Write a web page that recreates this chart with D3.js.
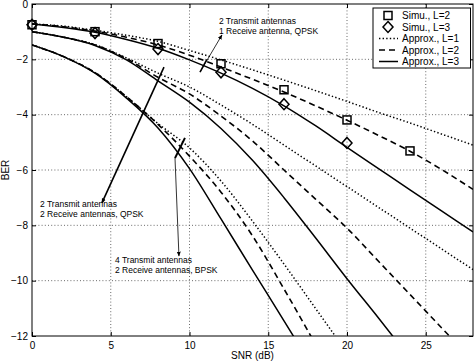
<!DOCTYPE html>
<html><head><meta charset="utf-8">
<script src="https://cdn.jsdelivr.net/npm/d3@7"></script>
<style>body{margin:0;background:#fff}svg{display:block}text{font-family:"Liberation Sans",Arial,sans-serif}</style>
</head><body><svg id="c" width="474" height="362"></svg>
<script>
// ---- data ----
const snr = [0,2,4,6,8,10,12,14,16,18,20,22,24,26,28];
// 2 Tx, 1 Rx, QPSK
const g1L1 = [-0.72,-0.8,-0.95,-1.13,-1.35,-1.68,-2.02,-2.38,-2.75,-3.13,-3.52,-3.92,-4.3,-4.7,-5.1];
const g1L2 = [-0.72,-0.82,-0.98,-1.2,-1.48,-1.85,-2.28,-2.72,-3.18,-3.68,-4.2,-4.75,-5.32,-5.98,-6.7];
const g1L3 = [-0.72,-0.85,-1.02,-1.28,-1.6,-2.02,-2.5,-3.05,-3.68,-4.4,-5.18,-5.95,-6.72,-7.48,-8.24];
// 2 Tx, 2 Rx, QPSK
const g2L1 = [-1.0,-1.2,-1.47,-1.95,-2.5,-3.0,-3.65,-4.35,-5.1,-5.85,-6.6,-7.35,-8.1,-8.85,-9.6];
const g2L2 = [-1.0,-1.2,-1.48,-1.98,-2.65,-3.25,-4.05,-4.95,-6.0,-7.05,-8.1,-9.3,-10.5,-11.7,-12.9];
const g2L3 = [-1.0,-1.2,-1.5,-2.02,-2.78,-3.55,-4.5,-5.65,-7.0,-8.45,-9.93,-11.35,-12.8,null,null];
// 4 Tx, 2 Rx, BPSK
const g3L1 = [-1.48,-1.9,-2.48,-3.35,-4.32,-5.2,-6.4,-7.85,-9.4,-11.0,-12.6,null,null,null,null];
const g3L2 = [-1.48,-1.9,-2.48,-3.35,-4.35,-5.5,-6.8,-8.38,-10.3,-12.3,null,null,null,null,null];
const g3L3 = [-1.48,-1.9,-2.5,-3.4,-4.48,-5.95,-7.77,-9.62,-11.45,-13.3,null,null,null,null,null];
// simulation points (2 Tx, 1 Rx)
const simSnrL2 = [0,4,8,12,16,20,24];
const simL2 = [-0.75,-1.0,-1.43,-2.16,-3.1,-4.19,-5.31];
const simSnrL3 = [0,4,8,12,16,20];
const simL3 = [-0.75,-1.05,-1.63,-2.47,-3.62,-5.02];
const xTicks = [0,5,10,15,20,25];
const yTicks = [0,-2,-4,-6,-8,-10,-12];
const legendLabels = ["Simu., L=2","Simu., L=3","Approx., L=1","Approx., L=2","Approx., L=3"];

// ---- layout ----
const svg = d3.select("#c");
const L=32, T=4, R=473, B=336;
const x = d3.scaleLinear().domain([0,28]).range([L,R]);
const y = d3.scaleLinear().domain([-12,0]).range([B,T]);
const styles = {L1:{dash:"1.4,2.2",w:1.5}, L2:{dash:"6,4",w:1.6}, L3:{dash:null,w:1.5}};
const curves = [
  [g1L1,"L1"],[g1L2,"L2"],[g1L3,"L3"],
  [g2L1,"L1"],[g2L2,"L2"],[g2L3,"L3"],
  [g3L1,"L1"],[g3L2,"L2"],[g3L3,"L3"]];

svg.append("defs").append("clipPath").attr("id","clip")
  .append("rect").attr("x",L).attr("y",T).attr("width",R-L).attr("height",B-T);
const mk = svg.select("defs").append("marker").attr("id","ah").attr("viewBox","0 0 10 10")
  .attr("refX",9).attr("refY",5).attr("markerWidth",5).attr("markerHeight",5)
  .attr("markerUnits","userSpaceOnUse").attr("orient","auto");
mk.append("path").attr("d","M0,1L10,5L0,9Z").attr("fill","#000");

// grid
const grid = svg.append("g").attr("stroke","#444").attr("stroke-width",0.8).attr("stroke-dasharray","1,2.2");
xTicks.filter(v=>v>0).forEach(v=>grid.append("line").attr("x1",x(v)).attr("x2",x(v)).attr("y1",T).attr("y2",B));
yTicks.filter(v=>v<0 && v>-12).forEach(v=>grid.append("line").attr("x1",L).attr("x2",R).attr("y1",y(v)).attr("y2",y(v)));

// axes
const ax = svg.append("g").attr("transform",`translate(0,${B})`)
  .call(d3.axisBottom(x).tickValues(xTicks).tickSize(-4).tickPadding(6).tickFormat(d3.format("d")));
const axT = svg.append("g").attr("transform",`translate(0,${T})`)
  .call(d3.axisTop(x).tickValues(xTicks).tickSize(-4).tickFormat(""));
const ay = svg.append("g").attr("transform",`translate(${L},0)`)
  .call(d3.axisLeft(y).tickValues(yTicks).tickSize(-4).tickPadding(4).tickFormat(d=>d<0?"\u2212"+(-d):d));
const ayR = svg.append("g").attr("transform",`translate(${R},0)`)
  .call(d3.axisRight(y).tickValues(yTicks).tickSize(-4).tickFormat(""));
[ax,axT,ay,ayR].forEach(g=>{g.select(".domain").remove();g.selectAll("line").attr("stroke","#000");
  g.selectAll("text").attr("font-size",10).attr("fill","#000").attr("font-family","Liberation Sans, Arial, sans-serif");});
svg.append("rect").attr("x",L).attr("y",T).attr("width",R-L).attr("height",B-T)
  .attr("fill","none").attr("stroke","#000").attr("stroke-width",1);

// curves
const line = d3.line().defined(d=>d[1]!=null).x(d=>x(d[0])).y(d=>y(d[1])).curve(d3.curveMonotoneX);
const cg = svg.append("g").attr("clip-path","url(#clip)");
curves.forEach(([vals,s])=>{
  cg.append("path").attr("d",line(snr.map((v,i)=>[v,vals[i]])))
    .attr("fill","none").attr("stroke","#000").attr("stroke-width",styles[s].w)
    .attr("stroke-dasharray",styles[s].dash);
});

// markers
const sq = (g,cx,cy)=>g.append("rect").attr("x",cx-4).attr("y",cy-4).attr("width",8).attr("height",8)
  .attr("fill","none").attr("stroke","#000").attr("stroke-width",1.5);
const dm = (g,cx,cy)=>g.append("path").attr("d",`M${cx},${cy-5.5}L${cx+5},${cy}L${cx},${cy+5.5}L${cx-5},${cy}Z`)
  .attr("fill","none").attr("stroke","#000").attr("stroke-width",1.5);
const mg = svg.append("g");
simSnrL2.forEach((s,i)=>sq(mg,x(s),y(simL2[i])));
simSnrL3.forEach((s,i)=>dm(mg,x(s),y(simL3[i])));

// annotations (data coordinates)
const ann = svg.append("g").attr("font-size",8.5).attr("fill","#000");
function txt(xv,yv,lines){lines.forEach((t,i)=>ann.append("text").attr("x",x(xv)).attr("y",y(yv)+i*10).text(t));}
function arrow(a,b,w,head){svg.append("line").attr("x1",x(a[0])).attr("y1",y(a[1])).attr("x2",x(b[0])).attr("y2",y(b[1]))
  .attr("stroke","#000").attr("stroke-width",w).attr("marker-end",head?"url(#ah)":null);}
txt(11.87,-0.72,["2 Transmit antennas","1 Receive antenna, QPSK"]);
arrow([10.67,-2.46],[12.06,-1.12],0.8,true);
arrow([11.1,-2.0],[10.67,-2.46],1.5,false);
txt(0.51,-7.34,["2 Transmit antennas","2 Receive antennas, QPSK"]);
arrow([8.38,-2.28],[4.44,-7.19],1.6,true);
txt(5.27,-9.36,["4 Transmit antennas","2 Receive antennas, BPSK"]);
arrow([9.71,-4.84],[9.08,-5.57],2,false);
arrow([9.08,-5.57],[9.33,-9.11],0.8,true);

// axis labels
svg.append("text").attr("x",(L+R)/2).attr("y",359).attr("text-anchor","middle").attr("font-size",10).text("SNR (dB)");
svg.append("text").attr("transform",`translate(9,${(T+B)/2}) rotate(-90)`).attr("text-anchor","middle").attr("font-size",10).text("BER");

// legend
const lg = svg.append("g");
lg.append("rect").attr("x",373).attr("y",8).attr("width",97.5).attr("height",60).attr("fill","#fff").attr("stroke","#000").attr("stroke-width",1);
legendLabels.forEach((t,i)=>{
  const cy = 15.5+i*11.5;
  if(i===0) sq(lg,388,cy);
  else if(i===1) dm(lg,388,cy);
  else { const s=["L1","L2","L3"][i-2];
    lg.append("line").attr("x1",379).attr("x2",398).attr("y1",cy).attr("y2",cy).attr("stroke","#000")
      .attr("stroke-width",styles[s].w).attr("stroke-dasharray",styles[s].dash); }
  lg.append("text").attr("x",402).attr("y",cy+3.6).attr("font-size",10).text(t);
});
</script></body></html>
